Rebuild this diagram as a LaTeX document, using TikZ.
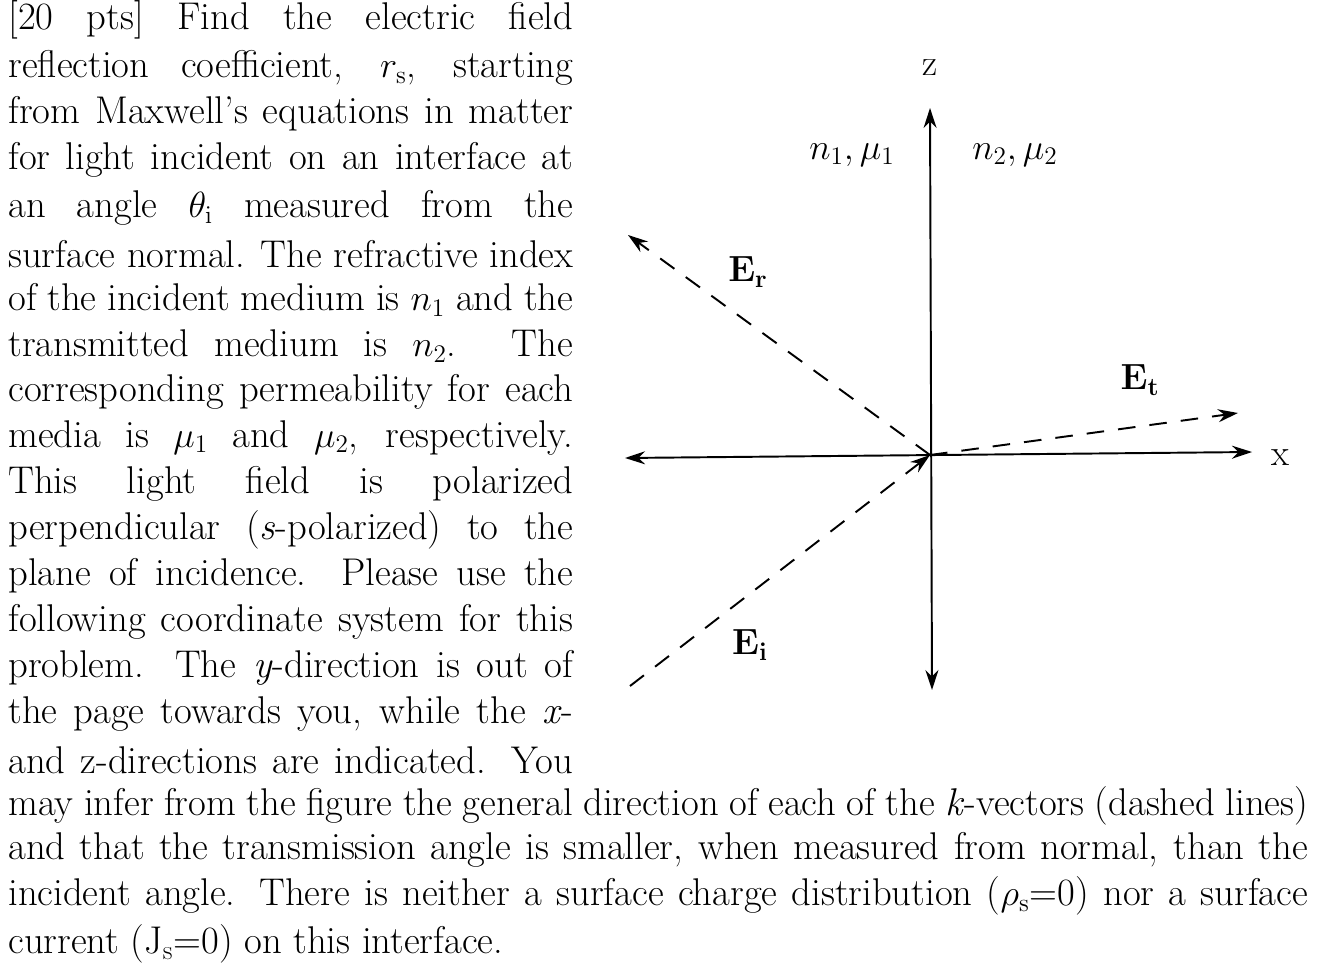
\documentclass[tikz,border=0pt]{standalone}
\usetikzlibrary{positioning,arrows.meta}
\newcommand{\jline}[4][11.3cm]{\node[txt] (#2) at (8,#3) {\makebox[#1][s]{#4}};}
\tikzset{
  txt/.style = {anchor=west, inner sep=0pt, font=\fontsize{22}{26}\selectfont},
  axis/.style = {{Stealth[length=4mm,width=2.6mm]}-{Stealth[length=4mm,width=2.6mm]}, line width=1.1pt},
  kvec/.style = {-{Stealth[length=4mm,width=2.6mm]}, line width=1.1pt, dash pattern=on 10pt off 8pt},
  lab/.style  = {inner sep=1pt, font=\fontsize{21}{25}\selectfont}
}
\begin{document}
\begin{tikzpicture}[x=0.02cm, y=-0.02cm]
  \useasboundingbox (0,0) rectangle (1317,969);
  % problem text
  \jline{l1}{20}{[20 pts] Find the electric field}
  \jline{l2}{68}{reflection coefficient, \(r_{\mathrm s}\), starting}
  \jline{l3}{114}{from Maxwell's equations in matter}
  \jline{l4}{160}{for light incident on an interface at}
  \jline{l5}{208}{an angle \(\theta_{\mathrm i}\) measured from the}
  \jline{l6}{254}{surface normal. The refractive index}
  \jline{l7}{300}{of the incident medium is \(n_1\) and the}
  \jline{l8}{346}{transmitted medium is \(n_2\). The}
  \jline{l9}{392}{corresponding permeability for each}
  \jline{l10}{438}{media is \(\mu_1\) and \(\mu_2\), respectively.}
  \jline{l11}{484}{This light field is polarized}
  \jline{l12}{530}{perpendicular (\textit{s}-polarized) to the}
  \jline{l13}{576}{plane of incidence. Please use the}
  \jline{l14}{622}{following coordinate system for this}
  \jline{l15}{668}{problem. The \textit{y}-direction is out of}
  \jline{l16}{714}{the page towards you, while the \textit{x}-}
  \jline{l17}{760}{and z-directions are indicated. You}
  \jline[26cm]{l18}{806}{may infer from the figure the general direction of each of the \textit{k}-vectors (dashed lines)}
  \jline[26cm]{l19}{850}{and that the transmission angle is smaller, when measured from normal, than the}
  \jline[26cm]{l20}{896}{incident angle. There is neither a surface charge distribution (\(\rho_{\mathrm s}\)=0) nor a surface}
  \node[txt] (l21) at (8,944) {current (J\textsubscript{s}=0) on this interface.};
  % coordinate system
  \coordinate (O) at (930,455);
  \coordinate (xl) at (625,458);
  \coordinate (xr) at (1252,452);
  \coordinate (zt) at (930,108);
  \coordinate (zb) at (932,690);
  \coordinate (rEnd) at (628,235);
  \coordinate (iStart) at (630,686);
  \coordinate (tEnd) at (1238,413);
  \draw[axis] (xl) -- (xr);
  \draw[axis] (zb) -- (zt);
  \draw[kvec] (O) -- (rEnd);
  \draw[kvec] (iStart) -- (O);
  \draw[kvec] (O) -- (tEnd);
  \node[lab] (zlab) at (930,68) {z};
  \node[lab] (xlab) at (1280,458) {x};
  \node[lab] (m1) at (852,155) {\(n_1, \mu_1\)};
  \node[lab] (m2) at (1015,155) {\(n_2, \mu_2\)};
  \node[lab] (Er) at (748,272) {\(\mathbf{E_r}\)};
  \node[lab] (Ei) at (750,645) {\(\mathbf{E_i}\)};
  \node[lab] (Et) at (1140,380) {\(\mathbf{E_t}\)};
\end{tikzpicture}
\end{document}
